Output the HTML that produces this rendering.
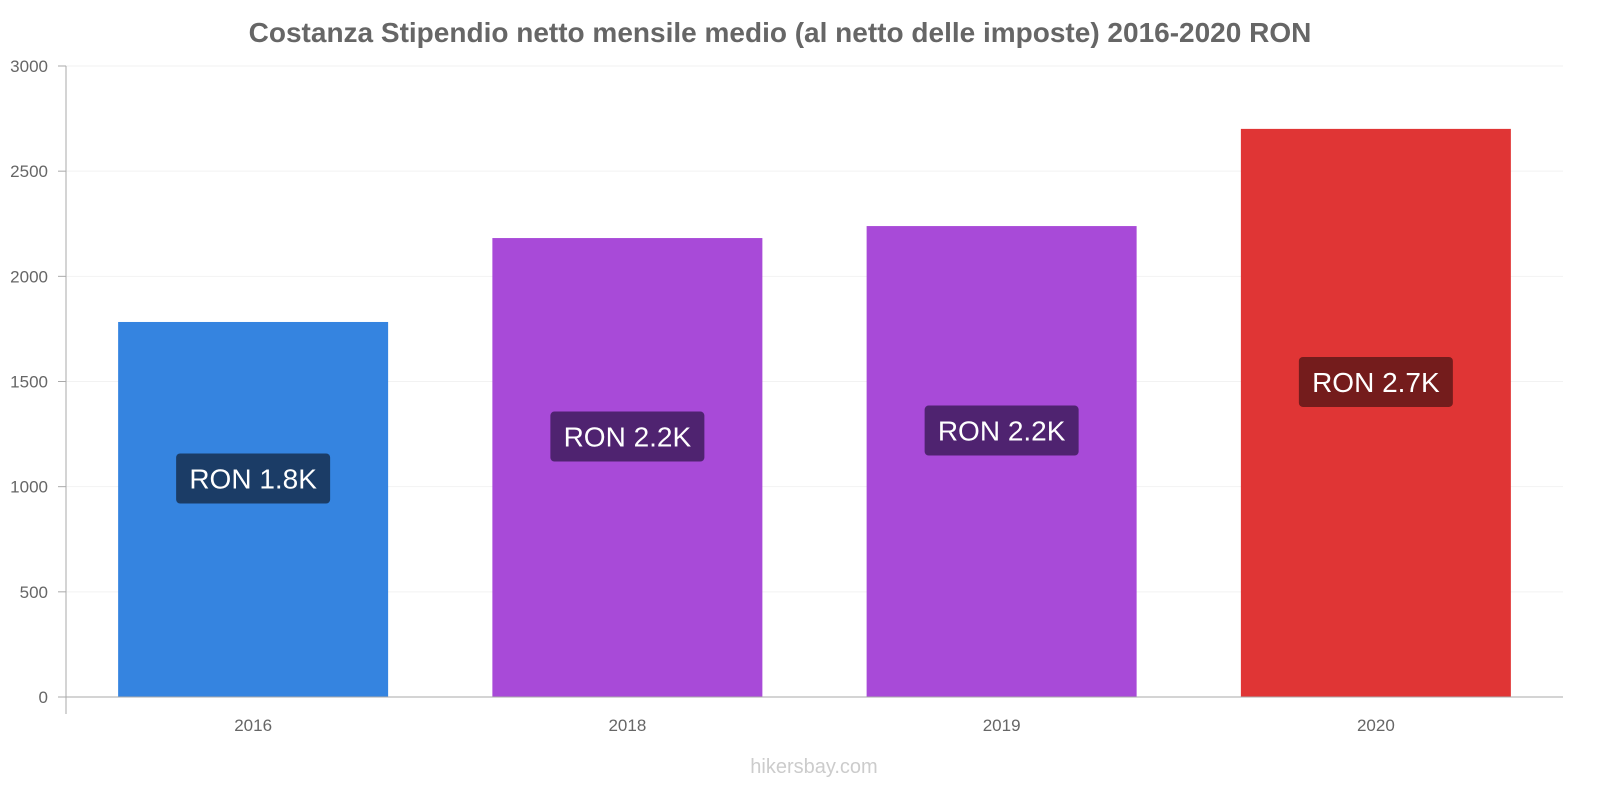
<!DOCTYPE html>
<html><head><meta charset="utf-8"><style>
body{margin:0;background:#fff;font-family:"Liberation Sans",sans-serif}
svg text{font-family:"Liberation Sans",sans-serif}
</style></head><body>
<svg id="c" width="1600" height="800" viewBox="0 0 1600 800">
<text x="780" y="42" text-anchor="middle" font-size="28" font-weight="bold" fill="#666">Costanza Stipendio netto mensile medio (al netto delle imposte) 2016-2020 RON</text>
<g id="grid"></g><g id="bars"></g><g id="axes"></g>
<text x="814" y="773" text-anchor="middle" font-size="20" fill="#ccc">hikersbay.com</text>
</svg>
<script>
const categories=["2016","2018","2019","2020"];
const values=[1783,2182,2239,2701];
const labels=["RON 1.8K","RON 2.2K","RON 2.2K","RON 2.7K"];
const yTicks=[0,500,1000,1500,2000,2500,3000];
const barColors=["#3584e0","#a84ad8","#a84ad8","#e03535"];
const labelColors=["#1b3c66","#4f2370","#4f2370","#741c1c"];
const NS="http://www.w3.org/2000/svg";
const x0=66,x1=1563,y0=697,y1=66,yMax=3000;
const y=v=>y0-(v/yMax)*(y0-y1);
const bw=(x1-x0)/categories.length;
const xc=i=>x0+bw*(i+0.5);
function mk(t,a,p){const e=document.createElementNS(NS,t);for(const k in a)e.setAttribute(k,a[k]);p.appendChild(e);return e;}
const grid=document.getElementById('grid'),bars=document.getElementById('bars'),axes=document.getElementById('axes');
yTicks.forEach(t=>{
 if(t>0){const g=mk('line',{x1:x0,x2:x1,y1:y(t),y2:y(t),stroke:'#f2f2f2','stroke-width':1},grid);
 
 }
 const tk=mk('line',{x1:x0-8,x2:x0,y1:y(t),y2:y(t),stroke:'#aaa'},axes);
 
 
 const l=mk('text',{x:x0-18,y:y(t)+6,'text-anchor':'end','font-size':17,fill:'#666'},axes);
 l.textContent=t;
 
 
});
const ax=mk('line',{x1:x0,x2:x0,y1:y1,y2:y0+17,stroke:'#aaa'},axes);


const xa=mk('line',{x1:x0-8,x2:x1,y1:y0,y2:y0,stroke:'#aaa'},axes);


categories.forEach((c,i)=>{
 const w=270,cx=xc(i),top=y(values[i]);
 const r=mk('rect',{x:cx-w/2,y:top,width:w,height:y0-top,fill:barColors[i]},bars);
 
 
 const ly=(top+y0)/2-31;
 const lw=154,lh=50;
 const b=mk('rect',{x:cx-lw/2,y:ly-lh/2,width:lw,height:lh,rx:4,fill:labelColors[i]},bars);
 
 
 const t=mk('text',{x:cx,y:ly+10,'text-anchor':'middle','font-size':28,fill:'#fff'},bars);
 t.textContent=labels[i];
 
 
 const xl=mk('text',{x:cx,y:731,'text-anchor':'middle','font-size':17,fill:'#666'},axes);
 xl.textContent=c;
 
 
});
</script>
</body></html>
